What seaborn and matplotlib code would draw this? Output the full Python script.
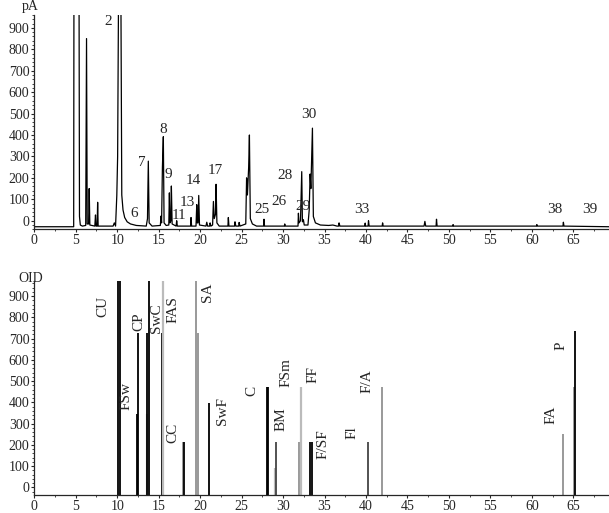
import matplotlib
matplotlib.use("Agg")
import matplotlib.pyplot as plt
import numpy as np
import seaborn as sns
from matplotlib.ticker import MultipleLocator

OUT = "out.png"

# FID chromatogram trace (time in min, signal in pA)
trace_time = [
    0.0, 4.75, 4.78, 5.40, 5.45, 5.55, 5.8, 6.2, 6.3, 6.38, 6.55, 6.62, 6.7,
    7.3, 7.38, 7.45, 7.58, 7.64, 7.7, 9.5, 9.65, 9.8, 9.95, 10.05, 10.15,
    10.45, 10.55, 10.7, 10.9, 11.2, 11.6, 12.3, 13.5, 13.65, 13.75, 13.85,
    14.2, 15.2, 15.28, 15.35, 15.45, 15.56, 15.65, 15.9, 16.22, 16.29, 16.36,
    16.47, 16.53, 16.62, 17.1, 17.17, 17.25, 18.85, 18.9, 18.97, 19.5, 19.59,
    19.65, 19.75, 19.83, 19.92, 20.7, 20.8, 20.9, 21.15, 21.2, 21.3, 21.5,
    21.6, 21.7, 21.85, 21.92, 22.02, 22.3, 23.35, 23.4, 23.47, 24.15, 24.2,
    24.3, 24.65, 24.7, 24.8, 25.5, 25.6, 25.7, 25.85, 25.94, 26.05, 26.3,
    26.8, 27.65, 27.7, 27.76, 30.15, 30.2, 30.26, 31.8, 31.85, 31.92, 32.1,
    32.18, 32.25, 32.33, 32.45, 32.55, 33.0, 33.15, 33.26, 33.35, 33.45,
    33.54, 33.65, 33.9, 34.5, 35.5, 36.0, 36.5, 36.7, 36.75, 36.85, 39.85,
    39.9, 39.95, 40.25, 40.3, 40.38, 41.95, 42.0, 42.07, 47.0, 47.1, 47.2,
    48.45, 48.5, 48.57, 50.45, 50.5, 50.55, 60.55, 60.6, 60.66, 63.75, 63.8,
    63.87, 69.3,
]
trace_signal = [
    -28, -28, 1000, 1000, 20, -20, -25, -22, 850, -15, -15, 150, -20,
    -25, 27, -25, -25, 86, -25, -25, -10, -25, 118, 300, 1000,
    1000, 120, 50, 15, -5, -15, -22, -25, 10, 278, -10,
    -25, -22, 22, -10, 250, 392, -10, -22, -20, 130, -10,
    0, 162, -15, -25, 0, -25, -25, 15, -25, -25, 75,
    -10, -10, 118, -20, -25, -7, -25, -25, -10, -25, -20,
    90, 10, 30, 170, -10, -25, -25, 15, -25, -25, -5,
    -25, -25, -8, -25, -15, 200, 120, 250, 400, 10, -15,
    -25, -25, 7, -25, -25, -15, -25, -25, 35, -10, 0,
    120, 229, -5, 5, -20, -20, 50, 218, 150, 300,
    432, 20, -10, -20, -22, -20, -25, -25, -10, -25, -25,
    -11, -25, -25, 0, -25, -25, -10, -25, -25, -3, -25,
    -25, 7, -25, -25, -18, -25, -25, -18, -25, -25, -7,
    -25, -28,
]

peak_labels = ["2", "6", "7", "8", "9", "11", "13", "14", "17", "25", "26",
               "28", "29", "30", "33", "38", "39"]
peak_label_time = [8.9, 12.0, 12.95, 15.5, 16.2, 17.45, 18.4, 19.2, 21.8,
                   27.4, 29.5, 30.25, 32.45, 33.05, 39.5, 62.8, 67.0]
peak_label_value = [930, 35, 270, 424, 218, 26, 83, 186, 233,
                    51, 90, 213, 67, 495, 51, 51, 51]

# olfactometry (OID) lines: retention time, intensity, shade
oid_time = [10.1, 10.3, 12.4, 12.55, 13.55, 13.6, 13.8, 15.4, 15.56, 17.9,
            18.0, 19.5, 19.7, 21.1, 28.1, 28.2, 29.0, 29.15, 31.9, 32.2,
            33.2, 33.45, 40.2, 41.9, 63.7, 65.1, 65.25]
oid_value = [1000, 1000, 345, 725, 345, 725, 1000, 725, 1000, 215,
             215, 1000, 725, 395, 470, 470, 90, 215, 215, 470,
             215, 215, 215, 470, 250, 470, 735]
oid_shade = ["k", "k", "k", "k", "l", "k", "k", "k", "l", "g",
             "k", "g", "g", "k", "k", "k", "l", "d", "g", "l",
             "k", "k", "d", "g", "g", "g", "k"]

odor_labels = ["CU", "FSw", "CP", "SwC", "FAS", "SA", "CC", "SwF", "C", "BM",
               "FSm", "FF", "F/SF", "Fl", "F/A", "FA", "P"]
odor_time = [8.3, 11.06, 12.67, 14.76, 16.7, 20.87, 16.77, 22.7, 26.2, 29.8,
             30.4, 33.66, 34.8, 38.3, 40.1, 62.3, 63.5]
odor_value = [850, 429, 780, 795, 834, 920, 257, 358, 452, 323,
              538, 530, 203, 257, 499, 343, 666]

SHADES = {"k": ("#000000", 1.3), "d": ("#444444", 1.3),
          "g": ("#888888", 1.2), "l": ("#bbbbbb", 1.6)}


def style_axis(ax, ylim):
    ax.set_xlim(0, 69.3)
    ax.set_ylim(*ylim)
    ax.set_xticks(np.arange(0, 70, 5))
    ax.set_yticks(np.arange(0, 1000, 100))
    ax.xaxis.set_minor_locator(MultipleLocator(2.5))
    ax.yaxis.set_minor_locator(MultipleLocator(20))
    ax.tick_params(axis="both", which="major", direction="out", length=2.5,
                   width=0.8, labelsize=10, pad=1)
    ax.tick_params(axis="both", which="minor", direction="out", length=1.5,
                   width=0.6)
    for side in ("top", "right"):
        ax.spines[side].set_visible(False)
    for side in ("left", "bottom"):
        ax.spines[side].set_linewidth(0.9)
    ax.set_xlabel("")
    ax.set_ylabel("")


def main():
    sns.set_style("ticks")
    plt.rcParams["font.family"] = ["Liberation Serif", "DejaVu Serif"]

    fig = plt.figure(figsize=(6.09, 5.13), dpi=100)
    ax1 = fig.add_axes([0.0563, 0.553, 0.9437, 0.4178])
    ax2 = fig.add_axes([0.0563, 0.0351, 0.9437, 0.4177])

    sns.lineplot(x=trace_time, y=trace_signal, sort=False, estimator=None,
                 ax=ax1, color="black", linewidth=0.9)
    style_axis(ax1, (-40, 960))
    for lab, t, v in zip(peak_labels, peak_label_time, peak_label_value):
        ax1.text(t, v, lab, ha="center", va="center", fontsize=11)

    ymin = -36
    for t, v, s in zip(oid_time, oid_value, oid_shade):
        color, lw = SHADES[s]
        ax2.vlines(t, ymin, v, color=color, linewidth=lw)
    style_axis(ax2, (ymin, 972))
    for lab, t, v in zip(odor_labels, odor_time, odor_value):
        ax2.text(t, v, lab, ha="center", va="center", rotation=90, fontsize=11)

    fig.text(30 / 609, 1 - 7 / 513, "pA", ha="center", va="center", fontsize=10)
    fig.text(31 / 609, 1 - 278 / 513, "OID", ha="center", va="center", fontsize=10)

    fig.savefig(OUT, dpi=100)
    plt.close(fig)


if __name__ == "__main__":
    main()
